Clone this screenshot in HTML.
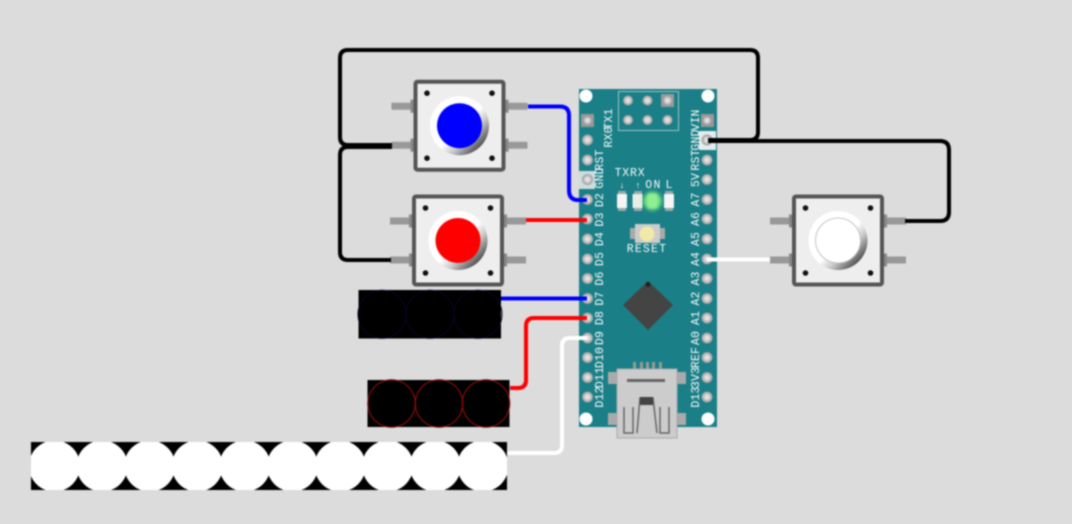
<!DOCTYPE html>
<html><head><meta charset="utf-8"><style>
html,body{margin:0;padding:0;background:#dcdcdc}
svg{display:block}
.w{fill:none;stroke-width:4;stroke-linecap:butt}
.t{font-family:"Liberation Mono",monospace;font-size:11.500px;fill:#f8fbfb;letter-spacing:.2px;text-anchor:middle}
</style></head><body>
<svg width="1072" height="524" viewBox="0 0 1072 524" xmlns="http://www.w3.org/2000/svg">
<defs>
<linearGradient id="ring" x1="0.2" y1="0.2" x2="0.85" y2="0.85">
<stop offset="0.5" stop-color="#fff"/><stop offset="0.72" stop-color="#c8c8c8"/><stop offset="1" stop-color="#555"/>
</linearGradient>
<radialGradient id="pin"><stop offset="0.3" stop-color="#e2e2e2"/><stop offset="1" stop-color="#9a9a9a"/></radialGradient>
<clipPath id="wb"><rect x="31" y="442" width="476" height="48"/></clipPath>
<g id="btn">
<g stroke="#999" stroke-width="7" fill="none">
<path d="M-68 -19.500H-46M-68 19.500H-46M46 -19.500H68M46 19.500H68"/>
</g>
<g fill="#888"><rect x="-49" y="-26" width="4" height="13"/><rect x="-49" y="13" width="4" height="13"/><rect x="45" y="-26" width="4" height="13"/><rect x="45" y="13" width="4" height="13"/></g>
<rect x="-44" y="-44" width="88" height="88" rx="2" fill="#eee" stroke="#555" stroke-width="4"/>
<g fill="#111"><circle cx="-32.500" cy="-32.500" r="2.800"/><circle cx="32.500" cy="-32.500" r="2.800"/><circle cx="-32.500" cy="32.500" r="2.800"/><circle cx="32.500" cy="32.500" r="2.800"/></g>
<circle r="29.500" fill="url(#ring)"/>
</g>
</defs>

<rect width="1072" height="524" fill="#dcdcdc"/>

<g style="filter:blur(.85px)">
<!-- Board -->
<rect x="579" y="89" width="138" height="338" fill="#1a7f87"/>
<g fill="#fff"><circle cx="586" cy="96" r="6.500"/><circle cx="708" cy="96" r="6.500"/><circle cx="586" cy="419" r="6.500"/><circle cx="708" cy="419" r="6.500"/></g>

<!-- ICSP -->
<rect x="618.500" y="91.500" width="60" height="39" fill="none" stroke="#9cc4c6" stroke-width="1"/>
<rect x="661" y="94" width="13" height="13" fill="#999"/>
<g fill="url(#pin)"><circle cx="628" cy="100.500" r="5"/><circle cx="647.500" cy="100.500" r="5"/><circle cx="667.500" cy="100.500" r="5"/><circle cx="628" cy="120" r="5"/><circle cx="647.500" cy="120" r="5"/><circle cx="667.500" cy="120" r="5"/></g>

<!-- Pin highlights -->
<rect x="579" y="171" width="16" height="18" fill="#cfdcdc"/>
<rect x="699" y="131" width="17" height="19" fill="#e4ecec"/>
<rect x="581" y="114" width="13" height="13" fill="#999"/>
<rect x="701" y="114" width="13" height="13" fill="#999"/>
<g fill="url(#pin)">
<circle cx="587.500" cy="120.500" r="4.500"/><circle cx="707" cy="120.500" r="4.500"/>
<circle cx="587.500" cy="140" r="5.500"/><circle cx="587.500" cy="160" r="5.500"/><circle cx="587.500" cy="179.500" r="5.500"/><circle cx="587.500" cy="199.500" r="5.500"/><circle cx="587.500" cy="219" r="5.500"/><circle cx="587.500" cy="239" r="5.500"/><circle cx="587.500" cy="259" r="5.500"/><circle cx="587.500" cy="278.500" r="5.500"/><circle cx="587.500" cy="298.500" r="5.500"/><circle cx="587.500" cy="318" r="5.500"/><circle cx="587.500" cy="338" r="5.500"/><circle cx="587.500" cy="357.500" r="5.500"/><circle cx="587.500" cy="377.500" r="5.500"/><circle cx="587.500" cy="397" r="5.500"/>
<circle cx="707" cy="140" r="5.500"/><circle cx="707" cy="160" r="5.500"/><circle cx="707" cy="179.500" r="5.500"/><circle cx="707" cy="199.500" r="5.500"/><circle cx="707" cy="219" r="5.500"/><circle cx="707" cy="239" r="5.500"/><circle cx="707" cy="259" r="5.500"/><circle cx="707" cy="278.500" r="5.500"/><circle cx="707" cy="298.500" r="5.500"/><circle cx="707" cy="318" r="5.500"/><circle cx="707" cy="338" r="5.500"/><circle cx="707" cy="357.500" r="5.500"/><circle cx="707" cy="377.500" r="5.500"/><circle cx="707" cy="397" r="5.500"/>
</g>

<!-- Left labels -->
<text class="t" transform="translate(612,119) rotate(-90)">TX1</text>
<text class="t" transform="translate(612,137) rotate(-90)">RX0</text>
<text class="t" transform="translate(603,160) rotate(-90)">RST</text>
<text class="t" transform="translate(603,178) rotate(-90)">GND</text>
<text class="t" transform="translate(603,200) rotate(-90)">D2</text>
<text class="t" transform="translate(603,219.500) rotate(-90)">D3</text>
<text class="t" transform="translate(603,239) rotate(-90)">D4</text>
<text class="t" transform="translate(603,259) rotate(-90)">D5</text>
<text class="t" transform="translate(603,278.500) rotate(-90)">D6</text>
<text class="t" transform="translate(603,298.500) rotate(-90)">D7</text>
<text class="t" transform="translate(603,318) rotate(-90)">D8</text>
<text class="t" transform="translate(603,338) rotate(-90)">D9</text>
<text class="t" transform="translate(603,357.500) rotate(-90)">D10</text>
<text class="t" transform="translate(603,377.500) rotate(-90)">D11</text>
<text class="t" transform="translate(603,397) rotate(-90)">D12</text>
<!-- Right labels -->
<text class="t" transform="translate(699,120) rotate(-90)">VIN</text>
<text class="t" transform="translate(699,140) rotate(-90)">GND</text>
<text class="t" transform="translate(699,160) rotate(-90)">RST</text>
<text class="t" transform="translate(699,180) rotate(-90)">5V</text>
<text class="t" transform="translate(699,199.500) rotate(-90)">A7</text>
<text class="t" transform="translate(699,219) rotate(-90)">A6</text>
<text class="t" transform="translate(699,239) rotate(-90)">A5</text>
<text class="t" transform="translate(699,259) rotate(-90)">A4</text>
<text class="t" transform="translate(699,278.500) rotate(-90)">A3</text>
<text class="t" transform="translate(699,298.500) rotate(-90)">A2</text>
<text class="t" transform="translate(699,318) rotate(-90)">A1</text>
<text class="t" transform="translate(699,338) rotate(-90)">A0</text>
<text class="t" transform="translate(699,357.500) rotate(-90)">REF</text>
<text class="t" transform="translate(699,377.500) rotate(-90)">3V3</text>
<text class="t" transform="translate(699,397) rotate(-90)">D13</text>

<!-- LEDs -->
<text class="t" x="630" y="176" style="letter-spacing:.8px">TXRX</text>
<text class="t" x="622" y="188" style="font-size:9px">↓</text>
<text class="t" x="638" y="188" style="font-size:9px">↑</text>
<text class="t" x="653.500" y="188" style="letter-spacing:1.300px">ON</text>
<text class="t" x="669" y="188">L</text>
<g fill="#9aa"><rect x="618" y="191" width="8" height="20"/><rect x="634" y="191" width="8" height="20"/><rect x="665" y="191" width="8" height="20"/></g>
<g fill="#f5f5f5"><rect x="617" y="194" width="10" height="14"/><rect x="632.500" y="194" width="10" height="14" fill="#e6eee6"/><rect x="664" y="194" width="10" height="14"/></g>
<circle cx="652.500" cy="201" r="9" fill="#80f080" style="filter:blur(2px)"/>
<rect x="648" y="194" width="9" height="14" fill="#90f090" style="filter:blur(1px)"/>

<!-- Reset -->
<rect x="630" y="228" width="35" height="11" fill="#aaa"/>
<rect x="635" y="224" width="25" height="19" fill="#ccc"/>
<circle cx="647" cy="234" r="7.500" fill="#f2e8a8"/>
<text class="t" x="647" y="252" style="letter-spacing:1.200px">RESET</text>

<!-- MCU -->
<polygon points="648,281 673,305 648,330 623,305" fill="#444"/>
<circle cx="648" cy="284.500" r="2.500" fill="#222"/>

<!-- USB -->
<g fill="#999"><rect x="633" y="362" width="3" height="7"/><rect x="640" y="362" width="3" height="7"/><rect x="646" y="362" width="3" height="7"/><rect x="652" y="362" width="3" height="7"/><rect x="659" y="362" width="3" height="7"/></g>
<rect x="608" y="372" width="10" height="12" fill="#aaa"/><rect x="676" y="372" width="10" height="12" fill="#aaa"/>
<rect x="608" y="413" width="10" height="12" fill="#aaa"/><rect x="676" y="413" width="10" height="12" fill="#aaa"/>
<rect x="617" y="369" width="60" height="69" fill="#ccc" stroke="#aaa" stroke-width="1"/>
<rect x="627" y="379" width="38" height="3" fill="#666"/>
<path d="M624 407V433H633V407M660 407V433H669V407" fill="none" stroke="#666" stroke-width="1.500"/>
<path d="M637 433L640 398H653L657 433" fill="none" stroke="#666" stroke-width="1.500"/>
<rect x="640" y="397" width="13" height="8" fill="#444"/>

<!-- Buttons -->
<g transform="translate(459.500,125.700)"><use href="#btn"/><circle r="22.500" fill="#00f"/></g>
<g transform="translate(458,240.500)"><use href="#btn"/><circle r="22.500" fill="#f00"/></g>
<g transform="translate(838,240.500)"><use href="#btn"/><circle r="22.500" fill="#fff" stroke="#bbb" stroke-width=".8"/></g>

<!-- Blue LED bar -->
<rect x="358.500" y="290" width="142.500" height="48.500" fill="#000"/>
<g fill="none" stroke="#050528" stroke-width="1"><circle cx="382" cy="314.300" r="24"/><circle cx="430" cy="314.300" r="24"/><circle cx="478" cy="314.300" r="24"/></g>

<!-- Red LED bar -->
<rect x="367.500" y="380" width="142" height="47" fill="#000"/>
<g fill="none" stroke="#8a0c0c" stroke-width="1.200"><circle cx="391.500" cy="403.500" r="23.700"/><circle cx="439" cy="403.500" r="23.700"/><circle cx="486" cy="403.500" r="23.700"/></g>

<!-- White LED bar -->
<rect x="31" y="442" width="476" height="48" fill="#000"/>
<g fill="#fff" clip-path="url(#wb)"><circle cx="54.500" cy="466" r="25.600"/><circle cx="102.100" cy="466" r="25.600"/><circle cx="149.700" cy="466" r="25.600"/><circle cx="197.300" cy="466" r="25.600"/><circle cx="244.900" cy="466" r="25.600"/><circle cx="292.500" cy="466" r="25.600"/><circle cx="340.100" cy="466" r="25.600"/><circle cx="387.700" cy="466" r="25.600"/><circle cx="435.300" cy="466" r="25.600"/><circle cx="482.900" cy="466" r="25.600"/></g>

<!-- Wires -->
<path class="w" stroke="#000" d="M708 140H750Q758 140 758 132V58Q758 50 750 50H348Q340 50 340 58V137Q340 145 348 145H392"/>
<path class="w" stroke="#000" d="M392 147H348Q340 147 340 155V252Q340 260 348 260H391"/>
<path class="w" stroke="#000" d="M708 141H940Q949 141 949 150V212Q949 221 940 221H905"/>
<path class="w" stroke="#fff" d="M707 259.500H770"/>
<path class="w" stroke="#00f" d="M528 106.500H560Q569 106.500 569 115.500V190Q569 200 578 200H587"/>
<path class="w" stroke="#f00" d="M526 220H587"/>
<path class="w" stroke="#00f" d="M501 298.500H587"/>
<path class="w" stroke="#f00" d="M510 388H518Q526 388 526 380V326Q526 318 534 318H587"/>
<path class="w" stroke="#fff" d="M507 453H554Q562 453 562 445V346Q562 338 570 338H587"/>
</g>
</svg>
</body></html>
